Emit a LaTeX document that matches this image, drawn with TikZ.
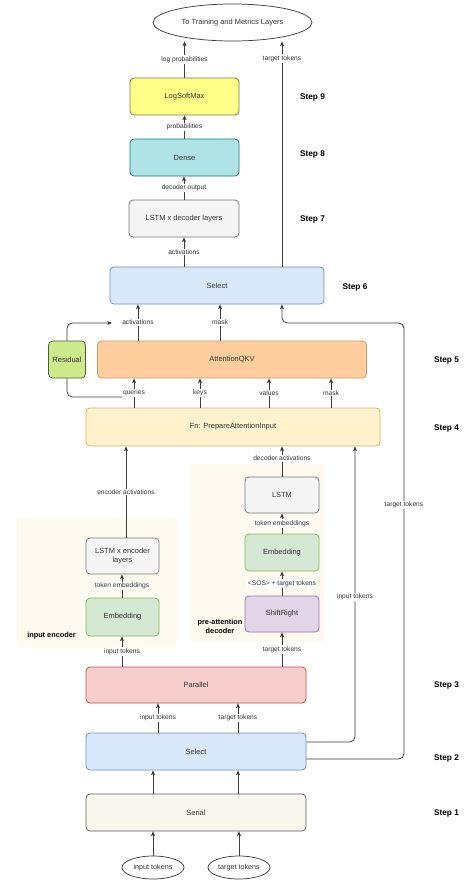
\documentclass[tikz,border=0pt]{standalone}
\usepackage{fontspec}
\setmainfont{Liberation Sans}
\usetikzlibrary{arrows.meta,shapes.geometric}
\definecolor{edgec}{HTML}{3C3C3C}
\definecolor{txt}{HTML}{333333}
\definecolor{grpfill}{HTML}{FFFAF0}
\definecolor{lsmF}{HTML}{FFFF88}\definecolor{lsmD}{HTML}{7A7748}
\definecolor{denF}{HTML}{B0E3E6}\definecolor{denD}{HTML}{0E8088}
\definecolor{greyF}{HTML}{F5F5F5}\definecolor{greyD}{HTML}{777777}
\definecolor{blueF}{HTML}{DAE8FC}\definecolor{blueD}{HTML}{6C8EBF}
\definecolor{resF}{HTML}{CDEB8B}\definecolor{resD}{HTML}{4F5A3A}
\definecolor{qkvF}{HTML}{FFCE9F}\definecolor{qkvD}{HTML}{D29A62}
\definecolor{fnF}{HTML}{FFF2CC}\definecolor{fnD}{HTML}{D6B656}
\definecolor{embF}{HTML}{D5E8D4}\definecolor{embD}{HTML}{82B366}
\definecolor{shF}{HTML}{E1D5E7}\definecolor{shD}{HTML}{9673A6}
\definecolor{parF}{HTML}{F8CECC}\definecolor{parD}{HTML}{B85450}
\definecolor{serF}{HTML}{F9F7ED}\definecolor{serD}{HTML}{5A5C5E}
\begin{document}
\begin{tikzpicture}[x=0.75pt,y=-0.75pt,
  box/.style={draw, rounded corners=3pt, line width=0.55pt, inner sep=0pt, text=txt,
    font=\fontsize{5.6}{6.8}\selectfont, align=center},
  grp/.style={fill=grpfill, draw=none, inner sep=0pt},
  lab/.style={fill=white, inner sep=0.7pt, text=txt, font=\fontsize{5}{6}\selectfont},
  arr/.style={draw=edgec, line width=0.6pt, -{Stealth[length=3.4pt,width=2.9pt,inset=0.6pt]}},
  ln/.style={draw=edgec, line width=0.6pt},
  steplab/.style={font=\fontsize{6.2}{7.5}\selectfont\bfseries, text=black},
  glab/.style={font=\fontsize{5.5}{6.8}\selectfont\bfseries, text=black, align=center},
  ell/.style={draw=edgec, ellipse, line width=0.55pt, inner sep=0pt, text=txt, font=\fontsize{5.4}{6.8}\selectfont}
]
\useasboundingbox[fill=white] (0,0) rectangle (474,890);

% group backgrounds
\node[grp, minimum width=120pt, minimum height=96pt] (genc) at (97,583) {};
\node[grp, minimum width=100.5pt, minimum height=132.75pt] (gdec) at (257,552.5) {};

% coordinates for connector x positions
\coordinate (tx) at (282,0);
\coordinate (ax) at (138,0);
\coordinate (mx) at (220,0);
\coordinate (qx) at (134,0);
\coordinate (kx) at (200,0);
\coordinate (vx) at (269,0);
\coordinate (m2x) at (331,0);
\coordinate (ex) at (126,0);
\coordinate (eix) at (122,0);
\coordinate (pix) at (158,0);
\coordinate (ptx) at (238,0);
\coordinate (six) at (153,0);
\coordinate (aj) at (112,323);
\coordinate (qj) at (122,397);
\coordinate (ty) at (0,759);
\coordinate (tr1) at (404,759);
\coordinate (tr2) at (404,323);
\coordinate (iy) at (0,742);
\coordinate (ir) at (355,742);

% nodes
\node[ell, minimum width=119.25pt, minimum height=27.75pt, font=\fontsize{5.6}{6.8}\selectfont] (out) at (232.5,22.5) {To Training and Metrics Layers};
\node[box, fill=lsmF, draw=lsmD, minimum width=81.75pt, minimum height=27.75pt] (lsm) at (184.5,96.5) {LogSoftMax};
\node[box, fill=denF, draw=denD, minimum width=81.75pt, minimum height=27.75pt] (dense) at (184.5,157.5) {Dense};
\node[box, fill=greyF, draw=greyD, minimum width=82.5pt, minimum height=27.75pt] (lstmd) at (184,218.5) {LSTM x decoder layers};
\node[box, fill=blueF, draw=blueD, minimum width=160.5pt, minimum height=27.75pt] (sel6) at (217,285.5) {Select};
\node[box, fill=resF, draw=resD, minimum width=27.75pt, minimum height=27.75pt] (resid) at (67,359.5) {Residual};
\node[box, fill=qkvF, draw=qkvD, minimum width=201.75pt, minimum height=27.75pt] (qkv) at (232,359.5) {AttentionQKV};
\node[box, fill=fnF, draw=fnD, minimum width=220.5pt, minimum height=28.5pt] (fn) at (233,427) {Fn: PrepareAttentionInput};
\node[box, fill=greyF, draw=greyD, minimum width=55.5pt, minimum height=27pt] (lstmD) at (282,495) {LSTM};
\node[box, fill=embF, draw=embD, minimum width=55.5pt, minimum height=27.75pt] (embD) at (282,552.5) {Embedding};
\node[box, fill=shF, draw=shD, minimum width=55.5pt, minimum height=27pt] (shift) at (282,614) {ShiftRight};
\node[box, fill=greyF, draw=greyD, minimum width=54.75pt, minimum height=27pt] (lstmE) at (122.5,556) {LSTM x encoder\\layers};
\node[box, fill=embF, draw=embD, minimum width=54.75pt, minimum height=28.5pt] (embE) at (122.5,617) {Embedding};
\node[box, fill=parF, draw=parD, minimum width=165pt, minimum height=27pt] (par) at (196,685) {Parallel};
\node[box, fill=blueF, draw=blueD, minimum width=165pt, minimum height=27.75pt] (sel2) at (196,751.5) {Select};
\node[box, fill=serF, draw=serD, minimum width=165pt, minimum height=27.75pt] (serial) at (196,812.5) {Serial};
\node[ell, minimum width=46.5pt, minimum height=17.25pt] (inp) at (153,867.5) {input tokens};
\node[ell, minimum width=46.5pt, minimum height=17.25pt] (tgt) at (239,867.5) {target tokens};

% group labels
\node[glab] (gel) at (51.5,636) {input encoder};
\node[glab] (gdl) at (220,626.5) {pre-attention\\decoder};

% step labels
\node[steplab] (s9) at (312.5,97) {Step 9};
\node[steplab] (s8) at (312.5,154) {Step 8};
\node[steplab] (s7) at (312.5,219) {Step 7};
\node[steplab] (s6) at (355,287) {Step 6};
\node[steplab] (s5) at (446.5,360) {Step 5};
\node[steplab] (s4) at (446.5,428) {Step 4};
\node[steplab] (s3) at (446.5,685) {Step 3};
\node[steplab] (s2) at (446.5,758) {Step 2};
\node[steplab] (s1) at (446.5,813) {Step 1};

% connectors
\draw[arr] (lsm.north) -- node[lab]{log probabilities} (lsm.north |- out.south);
\draw[arr] (sel6.north -| tx) -- node[lab,pos=0.924]{target tokens} (out.south -| tx);
\draw[arr] (dense.north) -- node[lab]{probabilities} (lsm.south);
\draw[arr] (lstmd.north) -- node[lab]{decoder output} (dense.south -| lstmd.north);
\draw[arr] (lstmd.south |- sel6.north) -- node[lab]{activations} (lstmd.south);

\draw[arr] (qkv.north -| ax) -- node[lab]{activations} (sel6.south -| ax);
\draw[arr] (qkv.north -| mx) -- node[lab]{mask} (sel6.south -| mx);
\draw[arr, rounded corners=4pt] (resid.north) -- (resid.north |- aj) -- (aj);
\draw[ln, rounded corners=4pt] (qj) -- (qj -| resid.south) -- (resid.south);

\draw[arr] (fn.north -| qx) -- node[lab]{queries} (qkv.south -| qx);
\draw[arr] (fn.north -| kx) -- node[lab]{keys} (qkv.south -| kx);
\draw[arr] (fn.north -| vx) -- node[lab]{values} (qkv.south -| vx);
\draw[arr] (fn.north -| m2x) -- node[lab]{mask} (qkv.south -| m2x);

\draw[arr] (lstmE.north -| ex) -- node[lab]{encoder activations} (fn.south -| ex);
\draw[arr] (lstmD.north) -- node[lab,pos=0.6]{decoder activations} (fn.south -| lstmD.north);
\draw[arr] (embD.north) -- node[lab]{token embeddings} (lstmD.south);
\draw[arr] (shift.north) -- node[lab]{<SOS> + target tokens} (embD.south);
\draw[arr] (par.north -| shift.south) -- node[lab]{target tokens} (shift.south);
\draw[arr] (embE.north -| eix) -- node[lab]{token embeddings} (lstmE.south -| eix);
\draw[arr] (par.north -| eix) -- node[lab]{input tokens} (embE.south -| eix);

\draw[arr, rounded corners=4pt] (sel2.east |- iy) -- (ir) -- node[lab,pos=0.49]{input tokens} (fn.south -| ir);
\draw[arr, rounded corners=4pt] (sel2.east |- ty) -- (tr1) -- node[lab,pos=0.583]{target tokens} (tr2) -- (tr2 -| tx) -- (sel6.south -| tx);

\draw[arr] (sel2.north -| pix) -- node[lab]{input tokens} (par.south -| pix);
\draw[arr] (sel2.north -| ptx) -- node[lab]{target tokens} (par.south -| ptx);
\draw[arr] (serial.north -| six) -- (sel2.south -| six);
\draw[arr] (serial.north -| ptx) -- (sel2.south -| ptx);
\draw[arr] (inp.north) -- (serial.south -| inp.north);
\draw[arr] (tgt.north) -- (serial.south -| tgt.north);
\end{tikzpicture}
\end{document}
